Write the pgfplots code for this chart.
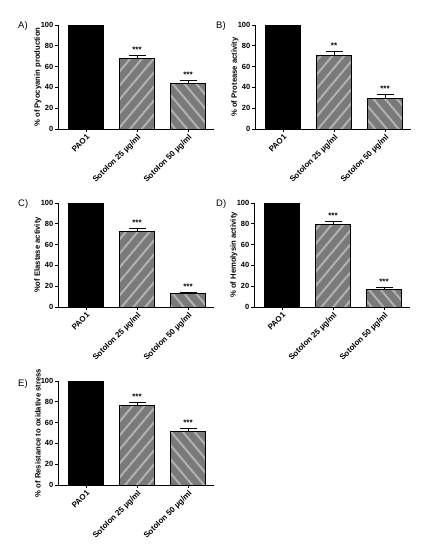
\documentclass[border=0pt]{standalone}
\usepackage{pgfplots}
\pgfplotsset{compat=1.18}
\usepackage{fontspec}
\setmainfont{Liberation Sans}
\usetikzlibrary{patterns.meta}
\tikzset{
 stars/.style={anchor=south, inner sep=0pt, yshift=2.5bp, font=\bfseries\fontsize{8}{8}\selectfont},
 plabel/.style={anchor=west, font=\fontsize{9.5}{10}\selectfont, inner sep=0pt},
}
\pgfplotsset{
 panel/.style={
  scale only axis, width=155.5bp, height=104bp, anchor=south west,
  xmin=-0.55, xmax=2.5, ymin=0, ymax=100, enlargelimits=false,
  axis lines=left, axis line style={-, line width=1pt},
  xtick={0,1,2}, xticklabels={PAO1, Sotolon 25 µg/ml, Sotolon 50 µg/ml},
  x tick label style={rotate=45, anchor=north east, font=\bfseries\fontsize{8}{9}\selectfont, inner sep=1pt},
  ytick={0,20,40,60,80,100},
  y tick label style={font=\bfseries\fontsize{7.5}{8}\selectfont, inner sep=1.5pt},
  tick align=outside, major tick length=3bp, tick style={black, line width=0.8pt},
  ylabel style={font=\bfseries\fontsize{7.7}{9}\selectfont, at={(axis description cs:-0.129,0.5)}, anchor=center},
  bar width=0.68, bar shift=0pt,
  /pgf/number format/assume math mode=true,
  clip=false,
 },
 blackbar/.style={ybar, draw=black, line width=0.9pt, fill=black},
 bartwo/.style={ybar, draw=black, line width=0.9pt, preaction={fill=black!52},
   pattern={Lines[angle=50,distance=9bp,line width=2bp]}, pattern color=black!30},
 barthree/.style={ybar, draw=black, line width=0.9pt, preaction={fill=black!52},
   pattern={Lines[angle=-50,distance=9bp,line width=2bp]}, pattern color=black!30},
 errs/.style={draw=none, mark=none, forget plot,
   error bars/.cd, y dir=plus, y explicit,
   error bar style={line width=1pt, black},
   error mark options={rotate=90, mark size=8.5bp, line width=1pt, black}},
}
\begin{document}
\begin{tikzpicture}
\path[use as bounding box] (0,0) rectangle (434bp,-550bp);
% A
\node[plabel] at (18bp,-26bp) {A)};
\begin{axis}[panel, at={(58bp,-129bp)}, ylabel={\% of Pyocyanin production}]
\addplot[blackbar] coordinates {(0,100)};
\addplot[bartwo] coordinates {(1,68)};
\addplot[barthree] coordinates {(2,44)};
\addplot[errs] coordinates {(1,68) +- (0,2.8) (2,44) +- (0,2.5)};
\node[stars] at (axis cs:1,70.8) {***};
\node[stars] at (axis cs:2,46.5) {***};
\end{axis}
% B
\node[plabel] at (216bp,-26bp) {B)};
\begin{axis}[panel, at={(255bp,-129bp)}, ylabel={\% of Protease activity}]
\addplot[blackbar] coordinates {(0,100)};
\addplot[bartwo] coordinates {(1,70.5)};
\addplot[barthree] coordinates {(2,29)};
\addplot[errs] coordinates {(1,70.5) +- (0,4.5) (2,29) +- (0,4)};
\node[stars] at (axis cs:1,75) {**};
\node[stars] at (axis cs:2,33) {***};
\end{axis}
% C
\node[plabel] at (18bp,-204bp) {C)};
\begin{axis}[panel, at={(58bp,-307bp)}, ylabel={\%of Elastase activity}]
\addplot[blackbar] coordinates {(0,100)};
\addplot[bartwo] coordinates {(1,72.4)};
\addplot[barthree] coordinates {(2,12.8)};
\addplot[errs] coordinates {(1,72.4) +- (0,3) (2,12.8) +- (0,1.3)};
\node[stars] at (axis cs:1,75.4) {***};
\node[stars] at (axis cs:2,14.1) {***};
\end{axis}
% D
\node[plabel] at (216bp,-204bp) {D)};
\begin{axis}[panel, at={(254bp,-307bp)}, ylabel={\% of Hemolysin activity}]
\addplot[blackbar] coordinates {(0,100)};
\addplot[bartwo] coordinates {(1,79.8)};
\addplot[barthree] coordinates {(2,16.8)};
\addplot[errs] coordinates {(1,79.8) +- (0,2.4) (2,16.8) +- (0,2)};
\node[stars] at (axis cs:1,82.2) {***};
\node[stars] at (axis cs:2,18.8) {***};
\end{axis}
% E
\node[plabel] at (18bp,-384bp) {E)};
\begin{axis}[panel, at={(58bp,-485bp)}, ylabel={\% of Resistance to oxidative stress}]
\addplot[blackbar] coordinates {(0,100)};
\addplot[bartwo] coordinates {(1,76.3)};
\addplot[barthree] coordinates {(2,51.6)};
\addplot[errs] coordinates {(1,76.3) +- (0,2.9) (2,51.6) +- (0,2.6)};
\node[stars] at (axis cs:1,79.2) {***};
\node[stars] at (axis cs:2,54.2) {***};
\end{axis}
\end{tikzpicture}
\end{document}
